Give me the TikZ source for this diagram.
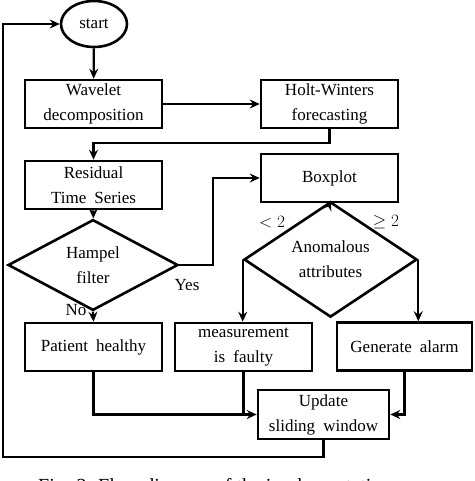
\documentclass[tikz,border=0pt]{standalone}
\usepackage{fontspec}
\setmainfont{Liberation Serif}[WordSpace=1.9]
\newfontfamily\capfont{Liberation Serif}
\usetikzlibrary{shapes.geometric,arrows.meta}
\begin{document}
\begin{tikzpicture}[x=1pt,y=-1pt,
  every node/.style={font=\fontsize{17}{25}\selectfont},
  procbox/.style={draw,line width=2.6pt,rectangle,minimum width=137pt,minimum height=48pt,inner sep=0pt,align=center},
  decision/.style={draw,line width=2.6pt,diamond,inner sep=0pt,align=center},
  conn/.style={line width=2.2pt},
  arr/.style={conn,-{Stealth[length=10pt,width=9pt,inset=3.5pt]}},
  lbl/.style={inner sep=0pt}]
\useasboundingbox (0,0) rectangle (474,481);
\node[draw,line width=2.6pt,ellipse,minimum width=66pt,minimum height=46pt,inner sep=0pt] (start) at (94,24) {start};
\node[procbox] (wave) at (93.5,104) {Wavelet\\decomposition};
\node[procbox] (hw) at (329.5,104) {Holt-Winters\\forecasting};
\node[procbox] (res) at (93.5,185) {Residual\\Time Series};
\node[decision,minimum width=170pt,minimum height=84pt] (ham) at (93,265) {Hampel\\filter};
\node[procbox] (box) at (329.5,178) {Boxplot};
\node[decision,minimum width=173pt,minimum height=85pt] (anom) at (330.5,259.5) {Anomalous\\attributes};
\node[procbox] (pat) at (93.5,347) {Patient healthy};
\node[procbox] (meas) at (243.5,347) {measurement\\is faulty};
\node[procbox,minimum width=135pt] (gen) at (404.5,346.5) {Generate alarm};
\node[procbox,minimum width=131pt,minimum height=49pt] (upd) at (323.5,414.5) {Update\\sliding window};
\coordinate (lp) at (3,457);

\draw[arr] (start) -- (wave);
\draw[arr] (wave) -- (hw);
\draw[arr] (hw.south) -- ++(0,14) -| (res.north);
\draw[arr] (res) -- (ham);
\draw[arr] (ham.east) -- ++(34,0) |- (box.west);
\node[lbl] (yes) at (187,285) {Yes};
\draw[arr] (ham.south) -- (pat.north);
\node[lbl] (no) at (76,310) {No};
\draw[arr] (box.south) -- (anom.north);
\node[lbl] (lt) at (272,222) {$<2$};
\node[lbl] (ge) at (386,222) {$\geq 2$};
\draw[arr] (anom.west) -- (anom.west |- meas.north);
\draw[arr] (anom.east) -- (anom.east |- gen.north);
\draw[arr] (pat.south) |- (upd.west);
\draw[conn] (meas.south) -- (meas.south |- upd.west);
\draw[arr] (gen.south) |- (upd.east);
\draw[arr] (upd.south) |- (lp) |- (start.west);
\node[anchor=base west,inner sep=0pt,font=\capfont\fontsize{20}{24}\selectfont] (cap) at (38,492) {Fig. 2. Flow diagram of the implementation};
\end{tikzpicture}
\end{document}
